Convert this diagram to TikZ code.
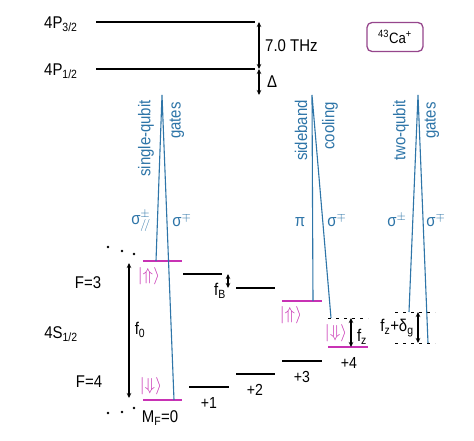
\documentclass[tikz,border=0pt]{standalone}
\usepackage{fontspec}
\setmainfont[FakeStretch=0.88]{Liberation Sans}
\usetikzlibrary{arrows.meta}
\definecolor{qblue}{RGB}{46,117,168}
\definecolor{qpink}{RGB}{200,50,180}
\definecolor{qpurple}{RGB}{150,70,140}
\begin{document}
\begin{tikzpicture}[x=1pt,y=-1pt,
  lvl/.style={line width=2.4pt},
  plvl/.style={line width=2.6pt, qpink},
  beam/.style={qblue, line width=1.1pt},
  lab/.style={font=\fontsize{17}{20}\selectfont, inner sep=0pt},
  mlab/.style={font=\fontsize{16}{19}\selectfont, inner sep=0pt},
  blab/.style={font=\fontsize{17}{20}\selectfont, text=qblue, rotate=90, anchor=east, inner sep=0pt},
  slab/.style={font=\fontsize{17}{20}\selectfont, text=qblue, inner sep=0pt},
  plab/.style={font=\fontsize{17}{20}\selectfont, text=qpink, inner sep=0pt},
  dbl/.style={{Stealth[length=5pt,width=4.5pt]}-{Stealth[length=5pt,width=4.5pt]}, line width=1.1pt},
  dsh/.style={dash pattern=on 3pt off 5pt, line width=1pt},
  dotn/.style={circle, fill, inner sep=0pt, minimum size=2.6pt}
]
\useasboundingbox (0,0) rectangle (474,440);
\fill[white] (0,0) rectangle (474,440);

% P levels
\coordinate (p3a) at (96,22); \coordinate (p3b) at (255,22);
\coordinate (p1a) at (96,69); \coordinate (p1b) at (255,69);
\draw[lvl] (p3a) -- (p3b);
\draw[lvl] (p1a) -- (p1b);
\node[lab, anchor=west] (lp3) at (44,24) {4P\textsubscript{3/2}};
\node[lab, anchor=west] (lp1) at (44,71) {4P\textsubscript{1/2}};
\coordinate (t1) at (259,22); \coordinate (t2) at (259,69); \coordinate (t3) at (259,95);
\draw[dbl] (t1) -- (t2);
\draw[dbl] (t2) -- (t3);
\node[lab, anchor=west] (thz) at (265,46) {7.0 THz};
\node[lab, anchor=west] (dlt) at (267,82) {Δ};
\node[draw=qpurple, line width=1.3pt, rounded corners=5pt, minimum width=56pt, minimum height=29pt, inner sep=0pt, font=\fontsize{15}{18}\selectfont] (ca) at (395,37) {\textsuperscript{43}Ca\textsuperscript{+}};

% S levels F=3
\coordinate (u0a) at (143,261); \coordinate (u0b) at (182,261);
\coordinate (u1a) at (183,274); \coordinate (u1b) at (222,274);
\coordinate (u2a) at (236,288); \coordinate (u2b) at (275,288);
\coordinate (u3a) at (282,301); \coordinate (u3b) at (322,301);
\draw[plvl] (u0a) -- (u0b);
\draw[lvl] (u1a) -- (u1b);
\draw[lvl] (u2a) -- (u2b);
\draw[plvl] (u3a) -- (u3b);
% F=4
\coordinate (d0a) at (143,400); \coordinate (d0b) at (182,400);
\coordinate (d1a) at (189,387); \coordinate (d1b) at (229,387);
\coordinate (d2a) at (236,374); \coordinate (d2b) at (275,374);
\coordinate (d3a) at (282,361); \coordinate (d3b) at (322,361);
\coordinate (d4a) at (328,347); \coordinate (d4b) at (368,347);
\draw[plvl] (d0a) -- (d0b);
\draw[lvl] (d1a) -- (d1b);
\draw[lvl] (d2a) -- (d2b);
\draw[lvl] (d3a) -- (d3b);
\draw[plvl] (d4a) -- (d4b);
% dashed virtual levels
\coordinate (v1a) at (328,318); \coordinate (v1b) at (368,318);
\coordinate (w1a) at (395,312); \coordinate (w1b) at (435,312);
\coordinate (w2a) at (395,343); \coordinate (w2b) at (435,343);
\draw[dsh] (v1a) -- (v1b);
\draw[dsh] (w1a) -- (w1b);
\draw[dsh] (w2a) -- (w2b);

% dots
\node[dotn] (e1) at (108,247) {}; \node[dotn] (e2) at (122,251) {}; \node[dotn] (e3) at (134,254) {};
\node[dotn] (e4) at (108,413) {}; \node[dotn] (e5) at (122,412) {}; \node[dotn] (e6) at (134,408) {};

% arrows
\coordinate (f0a) at (129,263); \coordinate (f0b) at (129,398);
\draw[dbl] (f0a) -- (f0b);
\coordinate (fba) at (228,274); \coordinate (fbb) at (228,288);
\draw[dbl] (fba) -- (fbb);
\coordinate (fza) at (351,318); \coordinate (fzb) at (351,347);
\draw[dbl] (fza) -- (fzb);
\coordinate (fga) at (418,312); \coordinate (fgb) at (418,343);
\draw[dbl] (fga) -- (fgb);

% labels
\node[lab] (l4s) at (61,334) {4S\textsubscript{1/2}};
\node[lab] (lf3) at (88,283) {F=3};
\node[lab] (lf4) at (89,382) {F=4};
\node[lab] (lf0) at (140,330) {f\textsubscript{0}};
\node[lab] (lmf) at (160,418) {M\textsubscript{F}=0};
\node[mlab] (m1) at (209,403) {+1};
\node[mlab] (m2) at (255,390) {+2};
\node[mlab] (m3) at (302,377) {+3};
\node[mlab] (m4) at (349,363) {+4};
\node[lab] (lfb) at (220,291) {f\textsubscript{B}};
\node[lab] (lfz) at (362,337) {f\textsubscript{z}};
\node[lab] (lfg) at (397,328) {f\textsubscript{z}+δ\textsubscript{g}};
\node[plab] (k1) at (149,276) {$|{\Uparrow}\rangle$};
\node[plab] (k2) at (151,386) {$|{\Downarrow}\rangle$};
\node[plab] (k3) at (291,315) {$|{\Uparrow}\rangle$};
\node[plab] (k4) at (336,333) {$|{\Downarrow}\rangle$};

% beams
\coordinate (a1) at (162,95);
\coordinate (a2) at (312,95);
\coordinate (a3) at (418,95);
\coordinate (b1) at (156,261); \coordinate (b2) at (174,400);
\coordinate (b3) at (313,301); \coordinate (b4) at (331,318);
\coordinate (b5) at (409,312); \coordinate (b6) at (428,343);
\draw[beam] (b1) -- (a1) -- (b2);
\draw[beam] (b3) -- (a2) -- (b4);
\draw[beam] (b5) -- (a3) -- (b6);

\node[blab] (g1) at (146,100) {single-qubit};
\node[blab] (g2) at (177,102) {gates};
\node[blab] (g3) at (301,100) {sideband};
\node[blab] (g4) at (330,102) {cooling};
\node[blab] (g5) at (401,100) {two-qubit};
\node[blab] (g6) at (432,102) {gates};

\node[slab] (s1) at (141,221) {σ$^{\pm}_{/\!/}$};
\node[slab] (s2) at (182,220) {σ$^{\mp}$};
\node[slab] (s3) at (300,222) {π};
\node[slab] (s4) at (337,220) {σ$^{\mp}$};
\node[slab] (s5) at (397,220) {σ$^{\pm}$};
\node[slab] (s6) at (436,220) {σ$^{\mp}$};
\end{tikzpicture}
\end{document}
